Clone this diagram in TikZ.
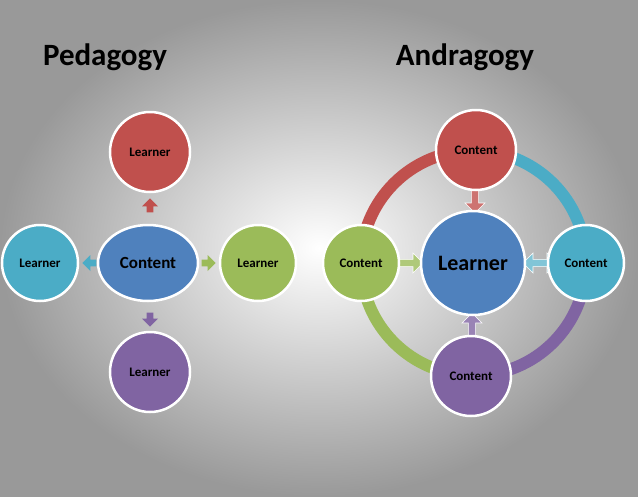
\documentclass[tikz,border=0pt]{standalone}
\usepackage{fontspec}
\setmainfont{Carlito}
\usetikzlibrary{shapes.arrows,shapes.geometric}
\definecolor{cred}{RGB}{192,80,77}
\definecolor{cblue}{RGB}{79,129,189}
\definecolor{ccyan}{RGB}{75,172,198}
\definecolor{cgreen}{RGB}{155,187,89}
\definecolor{cpurple}{RGB}{128,100,162}
\tikzset{
  bub/.style={circle,draw=white,line width=2.5pt,inner sep=0pt,font=\bfseries\fontsize{13}{13}\selectfont},
  sarr/.style={single arrow,draw=none,minimum height=14pt,minimum width=16pt,single arrow head extend=3pt,inner sep=2pt},
  darr/.style={double arrow,draw=white,line width=0.6pt,minimum height=34pt,minimum width=20pt,double arrow head extend=4pt,double arrow head indent=0pt,inner sep=2pt},
  ttl/.style={font=\bfseries\fontsize{31}{31}\selectfont}
}
\begin{document}
\begin{tikzpicture}[x=1pt,y=-1pt]
\useasboundingbox (0,0) rectangle (638,496);
\shade[inner color=white,outer color=black!40] (0,0) rectangle (638,496);
\node[ttl] (t1) at (105,57) {Pedagogy};
\node[ttl] (t2) at (465,57) {Andragogy};
% Pedagogy
\node[sarr,fill=cred,rotate=90] (a1) at (150,207) {};
\node[sarr,fill=ccyan,rotate=180] (a2) at (91,263) {};
\node[sarr,fill=cgreen] (a3) at (207,263) {};
\node[sarr,fill=cpurple,rotate=-90] (a4) at (150,318) {};
\node[draw=white,line width=2.5pt,ellipse,fill=cblue,minimum width=100pt,minimum height=76pt,inner sep=0pt,font=\bfseries\fontsize{17}{17}\selectfont] (pc) at (148,263) {Content};
\node[bub,fill=cred,minimum size=80pt] (pl1) at (150,152) {Learner};
\node[bub,fill=ccyan,minimum size=76pt] (pl2) at (40,263) {Learner};
\node[bub,fill=cgreen,minimum size=76pt] (pl3) at (258,263) {Learner};
\node[bub,fill=cpurple,minimum size=80pt] (pl4) at (150,372) {Learner};
% Andragogy ring
\coordinate (rc) at (473.5,263);
\draw[cred,line width=12pt] (361,263) arc[start angle=180,end angle=270,radius=112.5];
\draw[ccyan,line width=12pt] (473.5,150.5) arc[start angle=270,end angle=360,radius=112.5];
\draw[cpurple,line width=12pt] (586,263) arc[start angle=0,end angle=90,radius=112.5];
\draw[cgreen,line width=12pt] (473.5,375.5) arc[start angle=90,end angle=180,radius=112.5];
\node[darr,fill=cred!80,rotate=90] (d1) at (475,196) {};
\node[darr,fill=cpurple!80,rotate=90] (d4) at (472,330) {};
\node[darr,fill=cgreen!80] (d2) at (406,263) {};
\node[darr,fill=ccyan!70] (d3) at (540,263) {};
\node[bub,fill=cblue,minimum size=104pt,font=\bfseries\fontsize{22}{22}\selectfont] (al) at (473,263) {Learner};
\node[bub,fill=cred,minimum size=80pt] (ac1) at (476,150) {Content};
\node[bub,fill=cgreen,minimum size=76pt] (ac2) at (361,263) {Content};
\node[bub,fill=ccyan,minimum size=76pt] (ac3) at (586,263) {Content};
\node[bub,fill=cpurple,minimum size=80pt] (ac4) at (471,376) {Content};
\end{tikzpicture}
\end{document}
